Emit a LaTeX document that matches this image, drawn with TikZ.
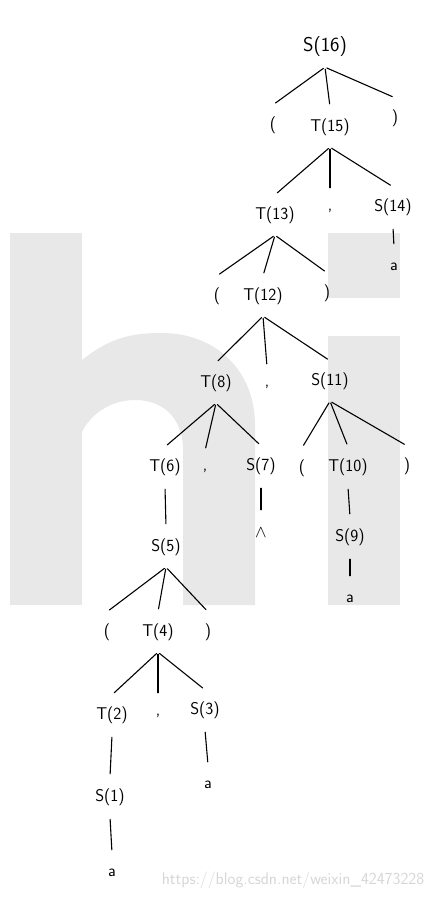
\documentclass[tikz,border=0pt]{standalone}
\definecolor{wm}{RGB}{232,232,232}
\definecolor{wmtext}{RGB}{214,214,214}
\begin{document}
\begin{tikzpicture}[x=1pt, y=-1pt,
  lab/.style={minimum height=40pt, inner sep=1pt, font=\sffamily\fontsize{17}{19}\selectfont},
  edge/.style={line width=1.1pt, line cap=round, shorten <=2pt, shorten >=3pt}]
\useasboundingbox (0,0) rectangle (438,905);
% watermark "hi"
\fill[wm] (10,233) rectangle (82,605);
\fill[wm] (82,360) .. controls (110,338) and (130,333) .. (162,333)
  .. controls (215,333) and (255,370) .. (255,425) -- (255,605) -- (183,605) -- (183,450)
  .. controls (183,420) and (165,400) .. (135,400) .. controls (110,400) and (90,415) .. (82,432) -- cycle;
\fill[wm] (328,233) rectangle (400,298);
\fill[wm] (328,336) rectangle (400,605);
\node[text=wmtext, font=\sffamily\fontsize{16.8}{19}\selectfont] (url) at (293,880) {https://blog.csdn.net/weixin\_42473228};
% tree
\node[lab, font=\sffamily\fontsize{20}{22}\selectfont] (s16) at (325,47) {S(16)};
\node[lab] (lpA) at (273,125) {(};
\node[lab] (t15) at (330,127) {T(15)};
\node[lab] (rpA) at (395,118) {)};
\node[lab] (t13) at (275,215) {T(13)};
\node[lab] (cmA) at (330,211) {,};
\node[lab] (s14) at (393,207) {S(14)};
\node[lab] (aA) at (394,267) {a};
\node[lab] (lpB) at (217,296) {(};
\node[lab] (t12) at (263,296) {T(12)};
\node[lab] (rpB) at (327,293) {)};
\node[lab] (t8) at (216,383) {T(8)};
\node[lab] (cmB) at (267,387) {,};
\node[lab] (s11) at (330,381) {S(11)};
\node[lab] (t6) at (165,467) {T(6)};
\node[lab] (cmC) at (205,471) {,};
\node[lab] (s7) at (261,466) {S(7)};
\node[lab] (lpC) at (302,468) {(};
\node[lab] (t10) at (348,467) {T(10)};
\node[lab] (rpC) at (407,466) {)};
\node[lab] (eps) at (261,533) {$\wedge$};
\node[lab] (s9) at (350,537) {S(9)};
\node[lab] (aB) at (350,599) {a};
\node[lab] (s5) at (166,547) {S(5)};
\node[lab] (lpD) at (107,632) {(};
\node[lab] (t4) at (158,632) {T(4)};
\node[lab] (rpD) at (208,632) {)};
\node[lab] (t2) at (112,715) {T(2)};
\node[lab] (cmD) at (158,716) {,};
\node[lab] (s3) at (205,710) {S(3)};
\node[lab] (s1) at (110,797) {S(1)};
\node[lab] (aC) at (208,785) {a};
\node[lab] (aD) at (112,873) {a};
\foreach \p/\c in {s16/lpA, s16/t15, s16/rpA, t15/t13, t15/cmA, t15/s14, s14/aA,
    t13/lpB, t13/t12, t13/rpB, t12/t8, t12/cmB, t12/s11, t8/t6, t8/cmC, t8/s7,
    s11/lpC, s11/t10, s11/rpC, s7/eps, t10/s9, s9/aB, t6/s5, s5/lpD, s5/t4, s5/rpD,
    t4/t2, t4/cmD, t4/s3, t2/s1, s1/aD, s3/aC}
  \draw[edge] (\p.south) -- (\c.north);
\end{tikzpicture}
\end{document}
